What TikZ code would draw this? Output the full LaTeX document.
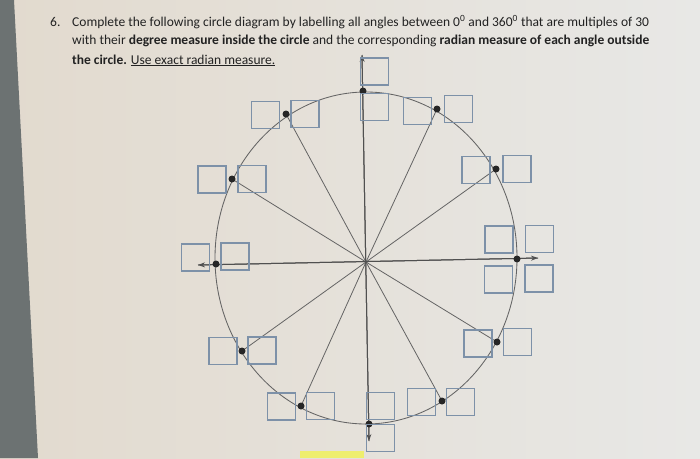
\documentclass[tikz,border=0pt]{standalone}
\usepackage{fontspec}
\setmainfont{Carlito}
\usetikzlibrary{arrows.meta}
\definecolor{bgA}{RGB}{226,218,206}
\definecolor{bgB}{RGB}{232,232,230}
\definecolor{band}{RGB}{108,114,114}
\definecolor{boxc}{RGB}{125,145,168}
\definecolor{linec}{RGB}{100,100,100}
\definecolor{txt}{RGB}{34,34,34}
\definecolor{hl}{RGB}{238,238,110}
\tikzset{
  ansbox/.style={draw=boxc,line width=1.1pt,minimum width=28pt,minimum height=27pt,inner sep=0pt},
  ptdot/.style={circle,fill=black!85,inner sep=0pt,minimum size=7pt},
  radial/.style={draw=linec,line width=0.8pt},
  axisline/.style={draw=linec!80!black,line width=1pt,-{Stealth[length=7pt,width=5pt]}},
  rim/.style={draw=linec,line width=0.85pt},
  qline/.style={anchor=base west,inner sep=0pt,text=txt,font=\fontsize{13.5}{16}\selectfont}
}
\begin{document}
\begin{tikzpicture}[x=1pt,y=-1pt]
\useasboundingbox (0,0) rectangle (700,458);
\shade[left color=bgA,right color=bgB] (0,0) rectangle (700,458);
\fill[band] (0,0) -- (14,0) -- (38,458) -- (0,458) -- cycle;
\fill[hl] (300,451) rectangle (364,458);

% question text
\node[qline] (q1) at (50,26.5) {\makebox[22pt][l]{6.}Complete the following circle diagram by labelling all angles between 0\textsuperscript{0} and 360\textsuperscript{0} that are multiples of 30};
\node[qline] (q2) at (72,44) {with their \textbf{degree measure inside the circle} and the corresponding \textbf{radian measure of each angle outside}};
\node[qline] (q3) at (72,64) {\textbf{the circle.} \underline{Use exact radian measure.}};

% circle
\draw[rim] (366,258) ellipse [x radius=151, y radius=166];

% centre and points
\coordinate (O) at (366,262);
\coordinate (aT) at (362,55);
\coordinate (aB) at (369,441);
\coordinate (aL) at (198,265);
\coordinate (aR) at (538,258);
\coordinate (p0) at (517,259);
\coordinate (p30) at (496,169);
\coordinate (p60) at (437,109);
\coordinate (p90) at (363,91);
\coordinate (p120) at (286,114);
\coordinate (p150) at (232,179);
\coordinate (p180) at (216,264);
\coordinate (p210) at (242,351);
\coordinate (p240) at (301,406);
\coordinate (p270) at (369,424);
\coordinate (p300) at (442,401);
\coordinate (p330) at (497,342);

\foreach \a in {30,60,120,150,210,240,300,330}{
  \draw[radial] (O) -- (p\a);
}
\draw[axisline] (aB) -- (aT);
\draw[axisline] (aT) -- (aB);
\draw[axisline] (aR) -- (aL);
\draw[axisline] (aL) -- (aR);

\foreach \a in {0,30,60,90,120,150,180,210,240,270,300,330}{
  \node[ptdot] (d\a) at (p\a) {};
}

% answer boxes
\node[ansbox] (b90o) at (374.5,71.5) {};
\node[ansbox] (b90i) at (374.5,107) {};
\node[ansbox] (b120o) at (265.5,115) {};
\node[ansbox] (b120i) at (305,114) {};
\node[ansbox] (b60i) at (417.5,111) {};
\node[ansbox] (b60o) at (458.5,109) {};
\node[ansbox] (b150o) at (212,179.5) {};
\node[ansbox] (b150i) at (252,179) {};
\node[ansbox] (b30i) at (476,170) {};
\node[ansbox] (b30o) at (517,169) {};
\node[ansbox] (b0iu) at (499,239.5) {};
\node[ansbox] (b0ou) at (539.5,239) {};
\node[ansbox] (b0il) at (498.5,279.5) {};
\node[ansbox] (b0ol) at (539,278.5) {};
\node[ansbox] (b330i) at (478,343.5) {};
\node[ansbox] (b330o) at (517.5,342) {};
\node[ansbox] (b180o) at (195.5,257.5) {};
\node[ansbox] (b180i) at (235,256.5) {};
\node[ansbox] (b210o) at (223,351) {};
\node[ansbox] (b210i) at (262,350.5) {};
\node[ansbox] (b240o) at (281.5,406.5) {};
\node[ansbox] (b240i) at (320.5,406) {};
\node[ansbox] (b270i) at (380.5,406) {};
\node[ansbox] (b270o) at (380.5,438) {};
\node[ansbox] (b300i) at (421.5,402) {};
\node[ansbox] (b300o) at (460.5,402) {};
\end{tikzpicture}
\end{document}
